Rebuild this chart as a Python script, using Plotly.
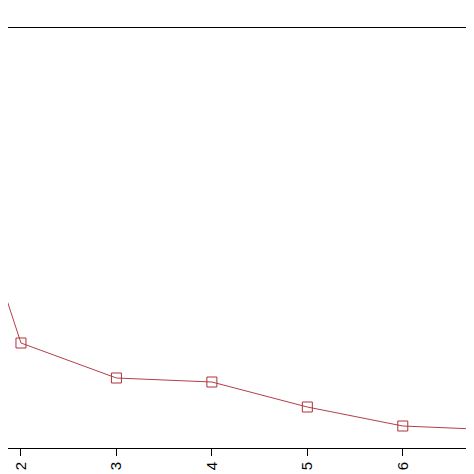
import plotly.graph_objects as go

components = [1, 2, 3, 4, 5, 6, 7]
variances = [19.8, 5.25, 3.5, 3.3, 2.05, 1.1, 0.9]

fig = go.Figure(go.Scatter(
    x=components, y=variances, mode='lines+markers',
    line=dict(color='#b04048', width=1),
    marker=dict(symbol='square-open', size=10, color='#b03038', line=dict(width=1)),
    cliponaxis=True,
))

fig.update_layout(
    width=474, height=474,
    margin=dict(l=0, r=0, t=20, b=34),
    plot_bgcolor='white', paper_bgcolor='white',
    showlegend=False,
)
fig.update_xaxes(
    range=[1.864, 6.83], tickvals=[2, 3, 4, 5, 6, 7], tickangle=-90,
    showline=True, linecolor='black', linewidth=1, mirror=True,
    ticks='outside', ticklen=7, tickcolor='black',
    showgrid=False, zeroline=False,
    tickfont=dict(family='Liberation Sans', size=15, color='black'),
)
fig.update_yaxes(range=[0, 21], visible=False, showgrid=False)

fig.write_html("out.html")
